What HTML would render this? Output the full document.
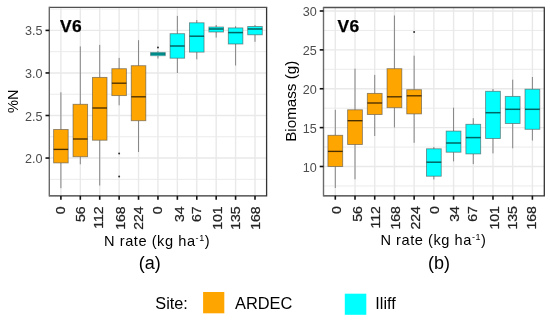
<!DOCTYPE html>
<html><head><meta charset="utf-8"><style>
html,body{margin:0;padding:0;background:#fff;}
body{width:550px;height:323px;overflow:hidden;}
svg{display:block;font-family:"Liberation Sans", sans-serif;filter:blur(0.3px);}
</style></head><body>
<svg width="550" height="323" viewBox="0 0 550 323">
<rect width="550" height="323" fill="#fff"/>
<line x1="49.3" x2="266.6" y1="9.12" y2="9.12" stroke="#EBEBEB" stroke-width="1"/>
<line x1="49.3" x2="266.6" y1="51.67" y2="51.67" stroke="#EBEBEB" stroke-width="1"/>
<line x1="49.3" x2="266.6" y1="94.22" y2="94.22" stroke="#EBEBEB" stroke-width="1"/>
<line x1="49.3" x2="266.6" y1="136.78" y2="136.78" stroke="#EBEBEB" stroke-width="1"/>
<line x1="49.3" x2="266.6" y1="179.32" y2="179.32" stroke="#EBEBEB" stroke-width="1"/>
<line x1="49.3" x2="266.6" y1="30.4" y2="30.4" stroke="#E9E9E9" stroke-width="1.4"/>
<line x1="49.3" x2="266.6" y1="72.95" y2="72.95" stroke="#E9E9E9" stroke-width="1.4"/>
<line x1="49.3" x2="266.6" y1="115.5" y2="115.5" stroke="#E9E9E9" stroke-width="1.4"/>
<line x1="49.3" x2="266.6" y1="158.05" y2="158.05" stroke="#E9E9E9" stroke-width="1.4"/>
<line x1="60.9" x2="60.9" y1="7.4" y2="195.9" stroke="#E9E9E9" stroke-width="1.4"/>
<line x1="80.31" x2="80.31" y1="7.4" y2="195.9" stroke="#E9E9E9" stroke-width="1.4"/>
<line x1="99.72" x2="99.72" y1="7.4" y2="195.9" stroke="#E9E9E9" stroke-width="1.4"/>
<line x1="119.13" x2="119.13" y1="7.4" y2="195.9" stroke="#E9E9E9" stroke-width="1.4"/>
<line x1="138.54" x2="138.54" y1="7.4" y2="195.9" stroke="#E9E9E9" stroke-width="1.4"/>
<line x1="157.95" x2="157.95" y1="7.4" y2="195.9" stroke="#E9E9E9" stroke-width="1.4"/>
<line x1="177.36" x2="177.36" y1="7.4" y2="195.9" stroke="#E9E9E9" stroke-width="1.4"/>
<line x1="196.77" x2="196.77" y1="7.4" y2="195.9" stroke="#E9E9E9" stroke-width="1.4"/>
<line x1="216.18" x2="216.18" y1="7.4" y2="195.9" stroke="#E9E9E9" stroke-width="1.4"/>
<line x1="235.59" x2="235.59" y1="7.4" y2="195.9" stroke="#E9E9E9" stroke-width="1.4"/>
<line x1="255" x2="255" y1="7.4" y2="195.9" stroke="#E9E9E9" stroke-width="1.4"/>
<line x1="60.9" x2="60.9" y1="92.3" y2="129.5" stroke="#858585" stroke-width="1"/>
<line x1="60.9" x2="60.9" y1="162.9" y2="188.2" stroke="#858585" stroke-width="1"/>
<rect x="53.62" y="129.5" width="14.56" height="33.4" fill="#FFA500" stroke="#4a4a4a" stroke-opacity="0.6" stroke-width="0.9"/>
<line x1="53.62" x2="68.18" y1="149.4" y2="149.4" stroke="#2a1a00" stroke-opacity="0.85" stroke-width="1.35"/>
<line x1="80.31" x2="80.31" y1="46.4" y2="104.3" stroke="#858585" stroke-width="1"/>
<line x1="80.31" x2="80.31" y1="156.7" y2="164.3" stroke="#858585" stroke-width="1"/>
<rect x="73.03" y="104.3" width="14.56" height="52.4" fill="#FFA500" stroke="#4a4a4a" stroke-opacity="0.6" stroke-width="0.9"/>
<line x1="73.03" x2="87.59" y1="139" y2="139" stroke="#2a1a00" stroke-opacity="0.85" stroke-width="1.35"/>
<line x1="99.72" x2="99.72" y1="44.9" y2="77.4" stroke="#858585" stroke-width="1"/>
<line x1="99.72" x2="99.72" y1="140.2" y2="185.5" stroke="#858585" stroke-width="1"/>
<rect x="92.44" y="77.4" width="14.56" height="62.8" fill="#FFA500" stroke="#4a4a4a" stroke-opacity="0.6" stroke-width="0.9"/>
<line x1="92.44" x2="107" y1="108" y2="108" stroke="#2a1a00" stroke-opacity="0.85" stroke-width="1.35"/>
<line x1="119.13" x2="119.13" y1="57.9" y2="68.7" stroke="#858585" stroke-width="1"/>
<line x1="119.13" x2="119.13" y1="95.6" y2="105.3" stroke="#858585" stroke-width="1"/>
<rect x="111.85" y="68.7" width="14.56" height="26.9" fill="#FFA500" stroke="#4a4a4a" stroke-opacity="0.6" stroke-width="0.9"/>
<line x1="111.85" x2="126.41" y1="83.2" y2="83.2" stroke="#2a1a00" stroke-opacity="0.85" stroke-width="1.35"/>
<circle cx="119.13" cy="153.4" r="1" fill="#333"/>
<circle cx="119.13" cy="176.5" r="1" fill="#333"/>
<line x1="138.54" x2="138.54" y1="40.2" y2="65.7" stroke="#858585" stroke-width="1"/>
<line x1="138.54" x2="138.54" y1="120.7" y2="152" stroke="#858585" stroke-width="1"/>
<rect x="131.26" y="65.7" width="14.56" height="55" fill="#FFA500" stroke="#4a4a4a" stroke-opacity="0.6" stroke-width="0.9"/>
<line x1="131.26" x2="145.82" y1="96.8" y2="96.8" stroke="#2a1a00" stroke-opacity="0.85" stroke-width="1.35"/>
<line x1="157.95" x2="157.95" y1="51" y2="52.4" stroke="#858585" stroke-width="1"/>
<line x1="157.95" x2="157.95" y1="55.7" y2="58.5" stroke="#858585" stroke-width="1"/>
<rect x="150.67" y="52.4" width="14.56" height="3.3" fill="#00FFFF" stroke="#4a4a4a" stroke-opacity="0.6" stroke-width="0.9"/>
<line x1="150.67" x2="165.23" y1="54" y2="54" stroke="#003a3a" stroke-opacity="0.78" stroke-width="1.5"/>
<circle cx="157.95" cy="47.4" r="1" fill="#333"/>
<line x1="177.36" x2="177.36" y1="15.9" y2="33.7" stroke="#858585" stroke-width="1"/>
<line x1="177.36" x2="177.36" y1="58.2" y2="73" stroke="#858585" stroke-width="1"/>
<rect x="170.08" y="33.7" width="14.56" height="24.5" fill="#00FFFF" stroke="#4a4a4a" stroke-opacity="0.6" stroke-width="0.9"/>
<line x1="170.08" x2="184.64" y1="46" y2="46" stroke="#003a3a" stroke-opacity="0.78" stroke-width="1.5"/>
<line x1="196.77" x2="196.77" y1="20" y2="22.8" stroke="#858585" stroke-width="1"/>
<line x1="196.77" x2="196.77" y1="52.1" y2="59.3" stroke="#858585" stroke-width="1"/>
<rect x="189.49" y="22.8" width="14.56" height="29.3" fill="#00FFFF" stroke="#4a4a4a" stroke-opacity="0.6" stroke-width="0.9"/>
<line x1="189.49" x2="204.05" y1="36.2" y2="36.2" stroke="#003a3a" stroke-opacity="0.78" stroke-width="1.5"/>
<line x1="216.18" x2="216.18" y1="25" y2="27" stroke="#858585" stroke-width="1"/>
<line x1="216.18" x2="216.18" y1="32" y2="37.6" stroke="#858585" stroke-width="1"/>
<rect x="208.9" y="27" width="14.56" height="5" fill="#00FFFF" stroke="#4a4a4a" stroke-opacity="0.6" stroke-width="0.9"/>
<line x1="208.9" x2="223.46" y1="29" y2="29" stroke="#003a3a" stroke-opacity="0.78" stroke-width="1.5"/>
<line x1="235.59" x2="235.59" y1="26.2" y2="27.9" stroke="#858585" stroke-width="1"/>
<line x1="235.59" x2="235.59" y1="44" y2="65.5" stroke="#858585" stroke-width="1"/>
<rect x="228.31" y="27.9" width="14.56" height="16.1" fill="#00FFFF" stroke="#4a4a4a" stroke-opacity="0.6" stroke-width="0.9"/>
<line x1="228.31" x2="242.87" y1="32.6" y2="32.6" stroke="#003a3a" stroke-opacity="0.78" stroke-width="1.5"/>
<line x1="255" x2="255" y1="25" y2="26.5" stroke="#858585" stroke-width="1"/>
<line x1="255" x2="255" y1="34.8" y2="41.8" stroke="#858585" stroke-width="1"/>
<rect x="247.72" y="26.5" width="14.56" height="8.3" fill="#00FFFF" stroke="#4a4a4a" stroke-opacity="0.6" stroke-width="0.9"/>
<line x1="247.72" x2="262.28" y1="29" y2="29" stroke="#003a3a" stroke-opacity="0.78" stroke-width="1.5"/>
<path d="M266.6,7.4V195.9H49.3" fill="none" stroke="#333" stroke-width="1.3"/>
<line x1="49.3" x2="267.25" y1="7.4" y2="7.4" stroke="#505050" stroke-width="1.3"/>
<line x1="49.3" x2="49.3" y1="6.75" y2="196.55" stroke="#6a6a6a" stroke-width="1.4"/>
<line x1="45.5" x2="49.3" y1="30.4" y2="30.4" stroke="#111" stroke-width="1.6"/>
<text x="42.5" y="35.4" text-anchor="end" font-size="12.6" fill="#4D4D4D">3.5</text>
<line x1="45.5" x2="49.3" y1="72.95" y2="72.95" stroke="#111" stroke-width="1.6"/>
<text x="42.5" y="77.95" text-anchor="end" font-size="12.6" fill="#4D4D4D">3.0</text>
<line x1="45.5" x2="49.3" y1="115.5" y2="115.5" stroke="#111" stroke-width="1.6"/>
<text x="42.5" y="120.5" text-anchor="end" font-size="12.6" fill="#4D4D4D">2.5</text>
<line x1="45.5" x2="49.3" y1="158.05" y2="158.05" stroke="#111" stroke-width="1.6"/>
<text x="42.5" y="163.05" text-anchor="end" font-size="12.6" fill="#4D4D4D">2.0</text>
<line x1="60.9" x2="60.9" y1="195.9" y2="199.8" stroke="#111" stroke-width="1.6"/>
<text transform="translate(65.45,206.4) rotate(-90) scale(1.1,1)" text-anchor="end" font-size="12.8" fill="#222" stroke="#222" stroke-width="0.25">0</text>
<line x1="80.31" x2="80.31" y1="195.9" y2="199.8" stroke="#111" stroke-width="1.6"/>
<text transform="translate(84.73,206.4) rotate(-90) scale(1.1,1)" text-anchor="end" font-size="12.8" fill="#222" stroke="#222" stroke-width="0.25">56</text>
<line x1="99.72" x2="99.72" y1="195.9" y2="199.8" stroke="#111" stroke-width="1.6"/>
<text transform="translate(103.17,206.4) rotate(-90) scale(1.1,1)" text-anchor="end" font-size="12.8" fill="#222" stroke="#222" stroke-width="0.25">112</text>
<line x1="119.13" x2="119.13" y1="195.9" y2="199.8" stroke="#111" stroke-width="1.6"/>
<text transform="translate(124.88,206.4) rotate(-90) scale(1.1,1)" text-anchor="end" font-size="12.8" fill="#222" stroke="#222" stroke-width="0.25">168</text>
<line x1="138.54" x2="138.54" y1="195.9" y2="199.8" stroke="#111" stroke-width="1.6"/>
<text transform="translate(143.38,206.4) rotate(-90) scale(1.1,1)" text-anchor="end" font-size="12.8" fill="#222" stroke="#222" stroke-width="0.25">224</text>
<line x1="157.95" x2="157.95" y1="195.9" y2="199.8" stroke="#111" stroke-width="1.6"/>
<text transform="translate(162.15,206.4) rotate(-90) scale(1.1,1)" text-anchor="end" font-size="12.8" fill="#222" stroke="#222" stroke-width="0.25">0</text>
<line x1="177.36" x2="177.36" y1="195.9" y2="199.8" stroke="#111" stroke-width="1.6"/>
<text transform="translate(183.92,206.4) rotate(-90) scale(1.1,1)" text-anchor="end" font-size="12.8" fill="#222" stroke="#222" stroke-width="0.25">34</text>
<line x1="196.77" x2="196.77" y1="195.9" y2="199.8" stroke="#111" stroke-width="1.6"/>
<text transform="translate(200.99,206.4) rotate(-90) scale(1.1,1)" text-anchor="end" font-size="12.8" fill="#222" stroke="#222" stroke-width="0.25">67</text>
<line x1="216.18" x2="216.18" y1="195.9" y2="199.8" stroke="#111" stroke-width="1.6"/>
<text transform="translate(222.38,206.4) rotate(-90) scale(1.1,1)" text-anchor="end" font-size="12.8" fill="#222" stroke="#222" stroke-width="0.25">101</text>
<line x1="235.59" x2="235.59" y1="195.9" y2="199.8" stroke="#111" stroke-width="1.6"/>
<text transform="translate(240.34,206.4) rotate(-90) scale(1.1,1)" text-anchor="end" font-size="12.8" fill="#222" stroke="#222" stroke-width="0.25">135</text>
<line x1="255" x2="255" y1="195.9" y2="199.8" stroke="#111" stroke-width="1.6"/>
<text transform="translate(260.4,206.4) rotate(-90) scale(1.1,1)" text-anchor="end" font-size="12.8" fill="#222" stroke="#222" stroke-width="0.25">168</text>
<line x1="323.5" x2="544.3" y1="30.44" y2="30.44" stroke="#EBEBEB" stroke-width="1"/>
<line x1="323.5" x2="544.3" y1="69.31" y2="69.31" stroke="#EBEBEB" stroke-width="1"/>
<line x1="323.5" x2="544.3" y1="108.19" y2="108.19" stroke="#EBEBEB" stroke-width="1"/>
<line x1="323.5" x2="544.3" y1="147.06" y2="147.06" stroke="#EBEBEB" stroke-width="1"/>
<line x1="323.5" x2="544.3" y1="185.94" y2="185.94" stroke="#EBEBEB" stroke-width="1"/>
<line x1="323.5" x2="544.3" y1="11" y2="11" stroke="#E9E9E9" stroke-width="1.4"/>
<line x1="323.5" x2="544.3" y1="49.88" y2="49.88" stroke="#E9E9E9" stroke-width="1.4"/>
<line x1="323.5" x2="544.3" y1="88.75" y2="88.75" stroke="#E9E9E9" stroke-width="1.4"/>
<line x1="323.5" x2="544.3" y1="127.62" y2="127.62" stroke="#E9E9E9" stroke-width="1.4"/>
<line x1="323.5" x2="544.3" y1="166.5" y2="166.5" stroke="#E9E9E9" stroke-width="1.4"/>
<line x1="335.3" x2="335.3" y1="7.5" y2="195.8" stroke="#E9E9E9" stroke-width="1.4"/>
<line x1="355.01" x2="355.01" y1="7.5" y2="195.8" stroke="#E9E9E9" stroke-width="1.4"/>
<line x1="374.72" x2="374.72" y1="7.5" y2="195.8" stroke="#E9E9E9" stroke-width="1.4"/>
<line x1="394.43" x2="394.43" y1="7.5" y2="195.8" stroke="#E9E9E9" stroke-width="1.4"/>
<line x1="414.14" x2="414.14" y1="7.5" y2="195.8" stroke="#E9E9E9" stroke-width="1.4"/>
<line x1="433.85" x2="433.85" y1="7.5" y2="195.8" stroke="#E9E9E9" stroke-width="1.4"/>
<line x1="453.56" x2="453.56" y1="7.5" y2="195.8" stroke="#E9E9E9" stroke-width="1.4"/>
<line x1="473.27" x2="473.27" y1="7.5" y2="195.8" stroke="#E9E9E9" stroke-width="1.4"/>
<line x1="492.98" x2="492.98" y1="7.5" y2="195.8" stroke="#E9E9E9" stroke-width="1.4"/>
<line x1="512.69" x2="512.69" y1="7.5" y2="195.8" stroke="#E9E9E9" stroke-width="1.4"/>
<line x1="532.4" x2="532.4" y1="7.5" y2="195.8" stroke="#E9E9E9" stroke-width="1.4"/>
<line x1="335.3" x2="335.3" y1="109.8" y2="135.3" stroke="#858585" stroke-width="1"/>
<line x1="335.3" x2="335.3" y1="166.5" y2="188" stroke="#858585" stroke-width="1"/>
<rect x="327.91" y="135.3" width="14.78" height="31.2" fill="#FFA500" stroke="#4a4a4a" stroke-opacity="0.6" stroke-width="0.9"/>
<line x1="327.91" x2="342.69" y1="151.4" y2="151.4" stroke="#2a1a00" stroke-opacity="0.85" stroke-width="1.35"/>
<line x1="355.01" x2="355.01" y1="68.7" y2="109.8" stroke="#858585" stroke-width="1"/>
<line x1="355.01" x2="355.01" y1="144.5" y2="179.3" stroke="#858585" stroke-width="1"/>
<rect x="347.62" y="109.8" width="14.78" height="34.7" fill="#FFA500" stroke="#4a4a4a" stroke-opacity="0.6" stroke-width="0.9"/>
<line x1="347.62" x2="362.4" y1="120.7" y2="120.7" stroke="#2a1a00" stroke-opacity="0.85" stroke-width="1.35"/>
<line x1="374.72" x2="374.72" y1="74.9" y2="93.4" stroke="#858585" stroke-width="1"/>
<line x1="374.72" x2="374.72" y1="114.5" y2="136" stroke="#858585" stroke-width="1"/>
<rect x="367.33" y="93.4" width="14.78" height="21.1" fill="#FFA500" stroke="#4a4a4a" stroke-opacity="0.6" stroke-width="0.9"/>
<line x1="367.33" x2="382.11" y1="103" y2="103" stroke="#2a1a00" stroke-opacity="0.85" stroke-width="1.35"/>
<line x1="394.43" x2="394.43" y1="15.5" y2="68.7" stroke="#858585" stroke-width="1"/>
<line x1="394.43" x2="394.43" y1="107.7" y2="127.5" stroke="#858585" stroke-width="1"/>
<rect x="387.04" y="68.7" width="14.78" height="39" fill="#FFA500" stroke="#4a4a4a" stroke-opacity="0.6" stroke-width="0.9"/>
<line x1="387.04" x2="401.82" y1="96.8" y2="96.8" stroke="#2a1a00" stroke-opacity="0.85" stroke-width="1.35"/>
<line x1="414.14" x2="414.14" y1="55.7" y2="89.7" stroke="#858585" stroke-width="1"/>
<line x1="414.14" x2="414.14" y1="113.9" y2="142.8" stroke="#858585" stroke-width="1"/>
<rect x="406.75" y="89.7" width="14.78" height="24.2" fill="#FFA500" stroke="#4a4a4a" stroke-opacity="0.6" stroke-width="0.9"/>
<line x1="406.75" x2="421.53" y1="95.8" y2="95.8" stroke="#2a1a00" stroke-opacity="0.85" stroke-width="1.35"/>
<circle cx="414.14" cy="31.9" r="1" fill="#333"/>
<line x1="433.85" x2="433.85" y1="147" y2="148.8" stroke="#858585" stroke-width="1"/>
<line x1="433.85" x2="433.85" y1="176.2" y2="179.5" stroke="#858585" stroke-width="1"/>
<rect x="426.46" y="148.8" width="14.78" height="27.4" fill="#00FFFF" stroke="#4a4a4a" stroke-opacity="0.6" stroke-width="0.9"/>
<line x1="426.46" x2="441.24" y1="162.2" y2="162.2" stroke="#003a3a" stroke-opacity="0.78" stroke-width="1.5"/>
<line x1="453.56" x2="453.56" y1="107.7" y2="131.1" stroke="#858585" stroke-width="1"/>
<line x1="453.56" x2="453.56" y1="152.2" y2="161.4" stroke="#858585" stroke-width="1"/>
<rect x="446.17" y="131.1" width="14.78" height="21.1" fill="#00FFFF" stroke="#4a4a4a" stroke-opacity="0.6" stroke-width="0.9"/>
<line x1="446.17" x2="460.95" y1="143" y2="143" stroke="#003a3a" stroke-opacity="0.78" stroke-width="1.5"/>
<line x1="473.27" x2="473.27" y1="118.2" y2="124.3" stroke="#858585" stroke-width="1"/>
<line x1="473.27" x2="473.27" y1="153.9" y2="164.1" stroke="#858585" stroke-width="1"/>
<rect x="465.88" y="124.3" width="14.78" height="29.6" fill="#00FFFF" stroke="#4a4a4a" stroke-opacity="0.6" stroke-width="0.9"/>
<line x1="465.88" x2="480.66" y1="137.6" y2="137.6" stroke="#003a3a" stroke-opacity="0.78" stroke-width="1.5"/>
<line x1="492.98" x2="492.98" y1="88.9" y2="91.3" stroke="#858585" stroke-width="1"/>
<line x1="492.98" x2="492.98" y1="138.5" y2="153.4" stroke="#858585" stroke-width="1"/>
<rect x="485.59" y="91.3" width="14.78" height="47.2" fill="#00FFFF" stroke="#4a4a4a" stroke-opacity="0.6" stroke-width="0.9"/>
<line x1="485.59" x2="500.37" y1="112.7" y2="112.7" stroke="#003a3a" stroke-opacity="0.78" stroke-width="1.5"/>
<line x1="512.69" x2="512.69" y1="79.7" y2="96.4" stroke="#858585" stroke-width="1"/>
<line x1="512.69" x2="512.69" y1="123.5" y2="148.3" stroke="#858585" stroke-width="1"/>
<rect x="505.3" y="96.4" width="14.78" height="27.1" fill="#00FFFF" stroke="#4a4a4a" stroke-opacity="0.6" stroke-width="0.9"/>
<line x1="505.3" x2="520.08" y1="109.3" y2="109.3" stroke="#003a3a" stroke-opacity="0.78" stroke-width="1.5"/>
<line x1="532.4" x2="532.4" y1="77" y2="89.2" stroke="#858585" stroke-width="1"/>
<line x1="532.4" x2="532.4" y1="129.3" y2="140.5" stroke="#858585" stroke-width="1"/>
<rect x="525.01" y="89.2" width="14.78" height="40.1" fill="#00FFFF" stroke="#4a4a4a" stroke-opacity="0.6" stroke-width="0.9"/>
<line x1="525.01" x2="539.79" y1="109.3" y2="109.3" stroke="#003a3a" stroke-opacity="0.78" stroke-width="1.5"/>
<path d="M544.3,7.5V195.8H323.5" fill="none" stroke="#333" stroke-width="1.3"/>
<line x1="323.5" x2="544.95" y1="7.5" y2="7.5" stroke="#505050" stroke-width="1.3"/>
<line x1="323.5" x2="323.5" y1="6.85" y2="196.45" stroke="#6a6a6a" stroke-width="1.4"/>
<line x1="319.7" x2="323.5" y1="11" y2="11" stroke="#111" stroke-width="1.6"/>
<text x="316.7" y="16.2" text-anchor="end" font-size="12.6" fill="#4D4D4D">30</text>
<line x1="319.7" x2="323.5" y1="49.88" y2="49.88" stroke="#111" stroke-width="1.6"/>
<text x="316.7" y="55.08" text-anchor="end" font-size="12.6" fill="#4D4D4D">25</text>
<line x1="319.7" x2="323.5" y1="88.75" y2="88.75" stroke="#111" stroke-width="1.6"/>
<text x="316.7" y="93.95" text-anchor="end" font-size="12.6" fill="#4D4D4D">20</text>
<line x1="319.7" x2="323.5" y1="127.62" y2="127.62" stroke="#111" stroke-width="1.6"/>
<text x="316.7" y="132.82" text-anchor="end" font-size="12.6" fill="#4D4D4D">15</text>
<line x1="319.7" x2="323.5" y1="166.5" y2="166.5" stroke="#111" stroke-width="1.6"/>
<text x="316.7" y="171.7" text-anchor="end" font-size="12.6" fill="#4D4D4D">10</text>
<line x1="335.3" x2="335.3" y1="195.8" y2="199.7" stroke="#111" stroke-width="1.6"/>
<text transform="translate(341.01,206.1) rotate(-90) scale(1.1,1)" text-anchor="end" font-size="12.8" fill="#222" stroke="#222" stroke-width="0.25">0</text>
<line x1="355.01" x2="355.01" y1="195.8" y2="199.7" stroke="#111" stroke-width="1.6"/>
<text transform="translate(361.83,206.1) rotate(-90) scale(1.1,1)" text-anchor="end" font-size="12.8" fill="#222" stroke="#222" stroke-width="0.25">56</text>
<line x1="374.72" x2="374.72" y1="195.8" y2="199.7" stroke="#111" stroke-width="1.6"/>
<text transform="translate(379.67,206.1) rotate(-90) scale(1.1,1)" text-anchor="end" font-size="12.8" fill="#222" stroke="#222" stroke-width="0.25">112</text>
<line x1="394.43" x2="394.43" y1="195.8" y2="199.7" stroke="#111" stroke-width="1.6"/>
<text transform="translate(400.42,206.1) rotate(-90) scale(1.1,1)" text-anchor="end" font-size="12.8" fill="#222" stroke="#222" stroke-width="0.25">168</text>
<line x1="414.14" x2="414.14" y1="195.8" y2="199.7" stroke="#111" stroke-width="1.6"/>
<text transform="translate(420.28,206.1) rotate(-90) scale(1.1,1)" text-anchor="end" font-size="12.8" fill="#222" stroke="#222" stroke-width="0.25">224</text>
<line x1="433.85" x2="433.85" y1="195.8" y2="199.7" stroke="#111" stroke-width="1.6"/>
<text transform="translate(439.11,206.1) rotate(-90) scale(1.1,1)" text-anchor="end" font-size="12.8" fill="#222" stroke="#222" stroke-width="0.25">0</text>
<line x1="453.56" x2="453.56" y1="195.8" y2="199.7" stroke="#111" stroke-width="1.6"/>
<text transform="translate(459.22,206.1) rotate(-90) scale(1.1,1)" text-anchor="end" font-size="12.8" fill="#222" stroke="#222" stroke-width="0.25">34</text>
<line x1="473.27" x2="473.27" y1="195.8" y2="199.7" stroke="#111" stroke-width="1.6"/>
<text transform="translate(477.33,206.1) rotate(-90) scale(1.1,1)" text-anchor="end" font-size="12.8" fill="#222" stroke="#222" stroke-width="0.25">67</text>
<line x1="492.98" x2="492.98" y1="195.8" y2="199.7" stroke="#111" stroke-width="1.6"/>
<text transform="translate(499.33,206.1) rotate(-90) scale(1.1,1)" text-anchor="end" font-size="12.8" fill="#222" stroke="#222" stroke-width="0.25">101</text>
<line x1="512.69" x2="512.69" y1="195.8" y2="199.7" stroke="#111" stroke-width="1.6"/>
<text transform="translate(516.69,206.1) rotate(-90) scale(1.1,1)" text-anchor="end" font-size="12.8" fill="#222" stroke="#222" stroke-width="0.25">135</text>
<line x1="532.4" x2="532.4" y1="195.8" y2="199.7" stroke="#111" stroke-width="1.6"/>
<text transform="translate(536.44,206.1) rotate(-90) scale(1.1,1)" text-anchor="end" font-size="12.8" fill="#222" stroke="#222" stroke-width="0.25">168</text>
<text x="59.9" y="31.9" font-size="17.4" font-weight="bold" letter-spacing="0.4" fill="#000" stroke="#000" stroke-width="0.25">V6</text>
<text x="337.6" y="31.9" font-size="17.4" font-weight="bold" letter-spacing="0.4" fill="#000" stroke="#000" stroke-width="0.25">V6</text>
<text transform="translate(17.8,101.2) rotate(-90)" text-anchor="middle" font-size="14.6" fill="#000">%N</text>
<text transform="translate(296.2,101.3) rotate(-90)" text-anchor="middle" font-size="15.2" fill="#000">Biomass (g)</text>
<text x="157.1" y="245.8" text-anchor="middle" font-size="14.6" letter-spacing="0.55" fill="#000">N rate (kg ha<tspan dy="-5" font-size="9">-1</tspan><tspan dy="5">)</tspan></text>
<text x="433.4" y="245.4" text-anchor="middle" font-size="14.6" letter-spacing="0.55" fill="#000">N rate (kg ha<tspan dy="-5" font-size="9">-1</tspan><tspan dy="5">)</tspan></text>
<text x="149.75" y="268.7" text-anchor="middle" font-size="18" fill="#000">(a)</text>
<text x="438.95" y="268.7" text-anchor="middle" font-size="18" fill="#000">(b)</text>
<text x="155.3" y="309.0" font-size="16.3" fill="#000">Site:</text>
<rect x="203.1" y="292" width="21.2" height="21.3" fill="#FFA500"/>
<text x="235.0" y="308.9" font-size="16.4" fill="#000">ARDEC</text>
<rect x="344.8" y="293.7" width="21.5" height="21.1" fill="#00FFFF"/>
<text x="375.3" y="309.3" font-size="16.2" fill="#000">Iliff</text>
</svg>
</body></html>
